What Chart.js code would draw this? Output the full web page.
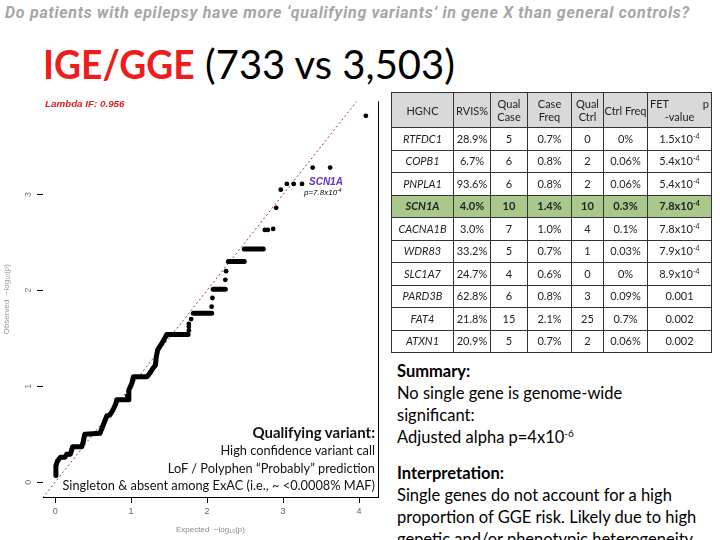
<!DOCTYPE html>
<html>
<head>
<meta charset="utf-8">
<script src="https://cdn.jsdelivr.net/npm/chart.js@4.4.1/dist/chart.umd.min.js"></script>
<style>
  html, body { margin: 0; padding: 0; }
  body { width: 720px; height: 540px; overflow: hidden; background: #fff; position: relative; font-family: Lato, "Open Sans", sans-serif; }
  .abs { position: absolute; white-space: nowrap; }
  #question { left: 5px; top: 3px; font: italic 700 16px Roboto, sans-serif; letter-spacing: 0.72px; color: #a6a6a6; }
  #headRed { left: 43px; top: 40px; font: 700 40px Lato, sans-serif; line-height: 48px; color: #ee1c1c; transform: scaleX(0.93); transform-origin: 0 0; }
  #headBlk { left: 205px; top: 40px; font: 400 40px Lato, sans-serif; line-height: 48px; color: #000; }
  #plot { position: absolute; left: 0; top: 90px; width: 390px; height: 450px; }
  #lambda { left: 45px; top: 98px; font: italic 700 9.8px "Liberation Sans", Arial, sans-serif; color: #e02020; }
  #gene { left: 309px; top: 176px; font: italic 700 10px "Liberation Sans", Arial, sans-serif; color: #6a2fc8; }
  #gp { left: 304px; top: 188px; font: italic 400 8px "Liberation Sans", Arial, sans-serif; color: #000; }
  #gp sup { font-size: 5px; position: relative; top: -3px; vertical-align: baseline; line-height: 0; }
  #qual { right: 345px; top: 423px; text-align: right; color: #111; }
  #qual .h { font-size: 15px; font-weight: 700; line-height: 19px; }
  #qual .l { font-size: 12.8px; line-height: 17.5px; }
  table { position: absolute; left: 391px; top: 92px; border-collapse: collapse; table-layout: fixed; width: 320px; font-size: 11px; color: #222; }
  td, th { border: 1px solid #333; padding: 0; text-align: center; font-weight: 400; overflow: hidden; }
  th { background: #d9d9d9; height: 34px; line-height: 13px; }
  td { height: 21.5px; line-height: 12px; }
  td.g { font-style: italic; }
  tr.hit td { background: #a9c98c; font-weight: 700; }
  td sup { font-size: 7px; position: relative; top: -4px; vertical-align: baseline; line-height: 0; }
  .fet { display: flex; justify-content: space-between; padding: 0 2px; }
  #summary { left: 397px; top: 360px; font-size: 16.5px; line-height: 22px; color: #000; }
  #summary b { font-weight: 700; }
  #summary sup { font-size: 10px; position: relative; top: -6px; vertical-align: baseline; line-height: 0; }
</style>
</head>
<body>
<div id="question" class="abs">Do patients with epilepsy have more ‘qualifying variants’ in gene X than general controls?</div>
<div id="headRed" class="abs">IGE/GGE</div>
<div id="headBlk" class="abs">(733 vs 3,503)</div>

<div id="plot"><canvas id="qq" width="390" height="450"></canvas></div>

<div id="lambda" class="abs">Lambda IF: 0.956</div>
<div id="gene" class="abs">SCN1A</div>
<div id="gp" class="abs">p=7.8x10<sup>-4</sup></div>
<div id="qual" class="abs">
  <div class="h">Qualifying variant:</div>
  <div class="l">High confidence variant call</div>
  <div class="l">LoF / Polyphen “Probably” prediction</div>
  <div class="l">Singleton &amp; absent among ExAC (i.e., ~ &lt;0.0008% MAF)</div>
</div>

<table>
  <colgroup>
    <col style="width:62px"><col style="width:37px"><col style="width:37px"><col style="width:44px"><col style="width:32px"><col style="width:44px"><col style="width:64px">
  </colgroup>
  <tr><th>HGNC</th><th>RVIS%</th><th>Qual<br>Case</th><th>Case<br>Freq</th><th>Qual<br>Ctrl</th><th>Ctrl Freq</th><th><div class="fet"><span>FET</span><span>p</span></div>-value</th></tr>
  <tr><td class="g">RTFDC1</td><td>28.9%</td><td>5</td><td>0.7%</td><td>0</td><td>0%</td><td>1.5x10<sup>-4</sup></td></tr>
  <tr><td class="g">COPB1</td><td>6.7%</td><td>6</td><td>0.8%</td><td>2</td><td>0.06%</td><td>5.4x10<sup>-4</sup></td></tr>
  <tr><td class="g">PNPLA1</td><td>93.6%</td><td>6</td><td>0.8%</td><td>2</td><td>0.06%</td><td>5.4x10<sup>-4</sup></td></tr>
  <tr class="hit"><td class="g">SCN1A</td><td>4.0%</td><td>10</td><td>1.4%</td><td>10</td><td>0.3%</td><td>7.8x10<sup>-4</sup></td></tr>
  <tr><td class="g">CACNA1B</td><td>3.0%</td><td>7</td><td>1.0%</td><td>4</td><td>0.1%</td><td>7.8x10<sup>-4</sup></td></tr>
  <tr><td class="g">WDR83</td><td>33.2%</td><td>5</td><td>0.7%</td><td>1</td><td>0.03%</td><td>7.9x10<sup>-4</sup></td></tr>
  <tr><td class="g">SLC1A7</td><td>24.7%</td><td>4</td><td>0.6%</td><td>0</td><td>0%</td><td>8.9x10<sup>-4</sup></td></tr>
  <tr><td class="g">PARD3B</td><td>62.8%</td><td>6</td><td>0.8%</td><td>3</td><td>0.09%</td><td>0.001</td></tr>
  <tr><td class="g">FAT4</td><td>21.8%</td><td>15</td><td>2.1%</td><td>25</td><td>0.7%</td><td>0.002</td></tr>
  <tr><td class="g">ATXN1</td><td>20.9%</td><td>5</td><td>0.7%</td><td>2</td><td>0.06%</td><td>0.002</td></tr>
</table>

<div id="summary" class="abs">
  <b>Summary:</b><br>
  No single gene is genome-wide<br>
  significant:<br>
  Adjusted alpha p=4x10<sup>-6</sup><br>
  <div style="height:14px"></div>
  <b>Interpretation:</b><br>
  Single genes do not account for a high<br>
  proportion of GGE risk. Likely due to high<br>
  genetic and/or phenotypic heterogeneity
</div>

<script>
  // QQ plot values (expected / observed -log10 p)

  // dense staircase of tied p-values, lower part
  const stairX = [0.01, 0.01, 0.03, 0.07, 0.13, 0.15, 0.20, 0.22, 0.23, 0.35, 0.37, 0.39, 0.59, 0.62, 0.65, 0.68, 0.72, 0.76, 0.80, 0.81, 0.96, 0.97, 1.01, 1.03, 1.21, 1.25, 1.29, 1.32, 1.33, 1.35, 1.39, 1.43, 1.47, 1.75]
  const stairY = [0.07, 0.17, 0.22, 0.26, 0.26, 0.29, 0.29, 0.34, 0.37, 0.37, 0.42, 0.50, 0.51, 0.57, 0.63, 0.69, 0.70, 0.75, 0.82, 0.86, 0.86, 0.96, 1.03, 1.10, 1.10, 1.14, 1.19, 1.22, 1.30, 1.38, 1.43, 1.48, 1.54, 1.54]

  // horizontal runs of ties, upper part
  const runStart = [1.82, 2.08, 2.28, 2.49]
  const runEnd = [2.06, 2.24, 2.49, 2.74]
  const runY = [1.76, 2.01, 2.30, 2.43]

  // single genes
  const dotX = [0.95, 1.76, 1.76, 1.76, 1.79, 2.06, 2.07, 2.24, 2.25, 2.76, 2.80, 2.87, 2.91, 2.97, 3.05, 3.14, 3.25, 3.39, 3.62, 4.09]
  const dotY = [0.90, 1.58, 1.62, 1.65, 1.70, 1.83, 1.92, 2.11, 2.20, 2.63, 2.63, 2.64, 2.86, 3.05, 3.11, 3.11, 3.11, 3.28, 3.28, 3.82]

  // y = x reference line
  const refX = [-0.2, 4.3]
  const refY = [-0.2, 4.3]

  const xTicks = [0, 1, 2, 3, 4]
  const yTicks = [0, 1, 2, 3]

  const toPoints = (xs, ys) => xs.map((x, i) => ({ x: x, y: ys[i] }))

  const thick = {
    showLine: true,
    pointRadius: 0,
    borderColor: "#000",
    borderWidth: 5,
    borderCapStyle: "round",
    borderJoinStyle: "round",
  }

  const runSets = runY.map((y, i) => ({
    ...thick,
    data: [{ x: runStart[i], y: y }, { x: runEnd[i], y: y }],
  }))

  // right edge of the box
  const frame = {
    id: "frame",
    afterDraw(chart) {
      const { ctx, chartArea: a } = chart
      ctx.save()
      ctx.strokeStyle = "#000"
      ctx.lineWidth = 1
      ctx.beginPath()
      ctx.moveTo(a.right + 0.5, a.top)
      ctx.lineTo(a.right + 0.5, a.bottom)
      ctx.stroke()
      ctx.restore()
    },
  }

  new Chart(document.getElementById("qq"), {
    type: "scatter",
    data: {
      datasets: [
        {
          data: toPoints(dotX, dotY),
          pointRadius: 2.4,
          pointBackgroundColor: "#000",
          pointBorderWidth: 0,
        },
        { ...thick, data: toPoints(stairX, stairY) },
        ...runSets,
        {
          data: toPoints(refX, refY),
          showLine: true,
          pointRadius: 0,
          borderColor: "#a04040",
          borderWidth: 1,
          borderDash: [2, 2.5],
          clip: 0,
        },
      ],
    },
    options: {
      responsive: false,
      animation: false,
      events: [],
      layout: { padding: { top: 7, right: 12, left: 0, bottom: 0 } },
      plugins: {
        legend: { display: false },
        tooltip: { enabled: false },
      },
      scales: {
        x: {
          min: -0.16,
          max: 4.25,
          afterBuildTicks: (s) => { s.ticks = xTicks.map((v) => ({ value: v })) },
          afterFit: (s) => { s.height = 43 },
          border: { display: true, color: "#000", width: 1 },
          grid: { drawOnChartArea: false, drawTicks: true, tickLength: 6, color: "#000" },
          ticks: { color: "#666", font: { size: 9, family: "Liberation Sans" }, padding: 3, maxRotation: 0 },
          title: {
            display: true,
            text: "Expected  −log₁₀(p)",
            color: "#888",
            font: { size: 8, family: "Liberation Sans" },
            padding: { top: 0, bottom: 5 },
          },
        },
        y: {
          min: -0.155,
          max: 3.97,
          afterBuildTicks: (s) => { s.ticks = yTicks.map((v) => ({ value: v })) },
          afterFit: (s) => { s.width = 43 },
          border: { display: false },
          grid: { drawOnChartArea: false, drawTicks: true, tickLength: 6, color: "#000" },
          ticks: {
            color: "#777",
            font: { size: 9, family: "Liberation Sans" },
            minRotation: 90,
            maxRotation: 90,
            crossAlign: "center",
            padding: 6,
          },
          title: {
            display: true,
            text: "Observed  −log₁₀(p)",
            color: "#999",
            font: { size: 8, family: "Liberation Sans" },
            padding: { top: 2, bottom: 0 },
          },
        },
      },
    },
    plugins: [frame],
  })
</script>
</body>
</html>
